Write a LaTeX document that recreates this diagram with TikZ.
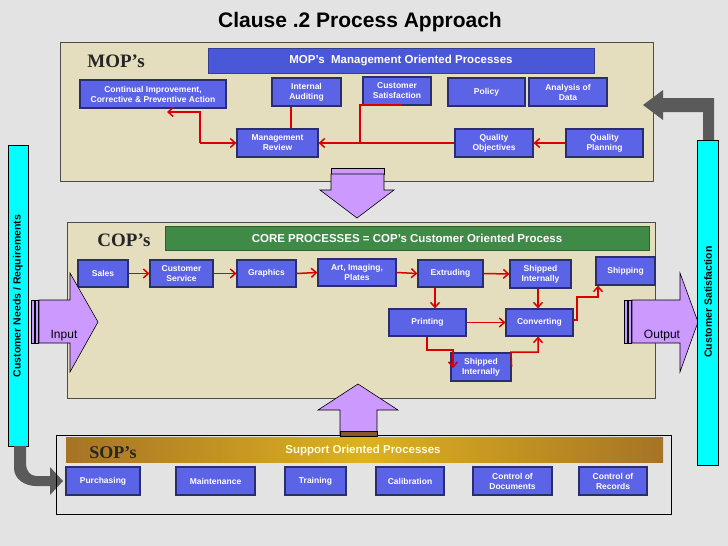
\documentclass[tikz,border=0pt]{standalone}
\usepackage{fontspec}
\setmainfont{Liberation Sans}
\newfontfamily\serifb{Liberation Serif}
\usetikzlibrary{arrows.meta}
\definecolor{bg}{HTML}{E3E3E3}
\definecolor{tan}{HTML}{E4DDBE}
\definecolor{bx}{HTML}{5B63E6}
\definecolor{bxd}{HTML}{2A2E6E}
\definecolor{hdr}{HTML}{4A58D8}
\definecolor{grn}{HTML}{3E8A46}
\definecolor{org}{HTML}{D0902E}
\definecolor{pur}{HTML}{CC99FF}
\definecolor{cy}{HTML}{00FFFF}
\definecolor{gr}{HTML}{5A5A5A}
\tikzset{
 box/.style={draw=bxd,line width=1.2pt,fill=bx,text=white,font=\bfseries\fontsize{8.5}{10}\selectfont,align=center,inner sep=0pt},
 ra/.style={draw=red!85!black,line width=1.5pt,-{Straight Barb[length=5pt,width=9pt]}},
 rl/.style={draw=red!85!black,line width=1.5pt},
 pnl/.style={draw=gray!60!black,line width=1pt,fill=tan},
 blk/.style={draw=black,line width=0.6pt,fill=pur},
}
\newcommand{\bxat}[6]{\node[box,minimum width=#4-#2,minimum height=#5-#3] (#1) at ({(#2+#4)/2},{(#3+#5)/2}) {#6};}
\begin{document}
\begin{tikzpicture}[x=1pt,y=-1pt]
\useasboundingbox (0,0) rectangle (728,546);
\fill[bg] (0,0) rectangle (728,546);
\node[font=\bfseries\fontsize{21}{23}\selectfont] (title) at (360,22) {Clause .2 Process Approach};
% MOP panel
\draw[pnl] (60,42) rectangle (653,181);
\node[font=\serifb\bfseries\fontsize{19}{20}\selectfont,text=black!85] (mopl) at (116,61) {MOP’s};
\node[fill=hdr,draw=hdr!70!black,minimum width=386,minimum height=25,text=white,font=\bfseries\fontsize{11.5}{13}\selectfont] (moph) at (401,61) {MOP’s\ \ Management Oriented Processes};
\bxat{ci}{80}{80}{226}{108}{Continual Improvement,\\Corrective \& Preventive Action}
\bxat{ia}{272}{78}{341}{106}{Internal\\Auditing}
\bxat{cs}{363}{77}{431}{105}{Customer\\Satisfaction}
\bxat{po}{448}{78}{525}{106}{Policy}
\bxat{ad}{529}{78}{607}{106}{Analysis of\\Data}
\bxat{mr}{237}{129}{318}{157}{Management\\Review}
\bxat{qo}{455}{129}{533}{157}{Quality\\Objectives}
\bxat{qp}{566}{129}{643}{157}{Quality\\Planning}
\draw[ra] (qp.west) -- (qo.east);
\draw[ra] (qo.west) -- (mr.east);
\draw[rl] (ia.south -| 291,0) -- (mr.north -| 291,0);
\draw[rl] (401,105) -- (360,105) -- (360,143);
\draw[ra] (200,143) -- (mr.west);
\draw[ra] (200,143) -- (200,112) -- (167,112);
% down block arrow MOP->COP
\draw[blk] (331,168) rectangle (384,174);
\draw[blk] (331,174) -- (331,190) -- (320,190) -- (357,218) -- (394,190) -- (384,190) -- (384,174) -- cycle;
% COP panel
\draw[pnl] (67,222) rectangle (655,398);
\node[font=\serifb\bfseries\fontsize{19}{20}\selectfont,text=black!85] (copl) at (124,240) {COP’s};
\node[fill=grn,draw=grn!70!black,minimum width=484,minimum height=24,text=white,font=\bfseries\fontsize{11.5}{13}\selectfont] (coph) at (407,238) {CORE PROCESSES = COP’s Customer Oriented Process};
\bxat{sa}{78}{260}{128}{287}{Sales}
\bxat{cse}{150}{260}{213}{287}{Customer\\Service}
\bxat{gr}{237}{260}{296}{287}{Graphics}
\bxat{ar}{318}{259}{396}{286}{Art, Imaging,\\Plates}
\bxat{ex}{418}{260}{483}{287}{Extruding}
\bxat{si}{510}{260}{571}{288}{Shipped\\Internally}
\bxat{sh}{596}{257}{655}{285}{Shipping}
\bxat{pr}{389}{309}{466}{336}{Printing}
\bxat{cv}{506}{309}{573}{336}{Converting}
\bxat{si2}{451}{353}{511}{381}{Shipped\\Internally}
\draw[ra] (sa.east) -- (cse.west);
\draw[ra] (cse.east) -- (gr.west);
\draw[ra] (gr.east) -- (ar.west);
\draw[ra] (ar.east) -- (ex.west);
\draw[ra] (ex.east) -- (si.west);
\draw[ra] (ex.south -| 435,0) -- (pr.north -| 435,0);
\draw[ra] (si.south -| 538,0) -- (cv.north -| 538,0);
\draw[ra] (pr.east) -- (cv.west);
\draw[ra] (pr.south -| 427,0) -- (427,350) -- (453,350) -- (453,368);
\draw[ra] (si2.east |- 0,367) -- (511,352) -- (538,352) -- (cv.south -| 538,0);
\draw[ra] (cv.east |- 0,320) -- (577,320) -- (577,297) -- (598,297) -- (sh.south -| 598,0);
% input / output arrows
\draw[blk] (31,300) rectangle (34,343);
\draw[blk] (35,300) rectangle (38,343);
\draw[blk] (39,300) -- (70,300) -- (70,273) -- (98,322) -- (70,372) -- (70,343) -- (39,343) -- cycle;
\node[font=\fontsize{12}{13}\selectfont] (inp) at (64,336) {Input};
\draw[blk] (624,300) rectangle (627,343);
\draw[blk] (628,300) rectangle (631,343);
\draw[blk] (632,300) -- (680,300) -- (680,273) -- (698,322) -- (680,372) -- (680,343) -- (632,343) -- cycle;
\node[font=\fontsize{12}{13}\selectfont] (outp) at (662,336) {Output};
% side bars
\draw[fill=cy,line width=1pt] (8,145) rectangle (28,446);
\node[rotate=90,font=\bfseries\fontsize{10.5}{12}\selectfont] (cn) at (18,296) {Customer Needs / Requirements};
\draw[fill=cy,line width=1pt] (697,140) rectangle (718,465);
\node[rotate=90,font=\bfseries\fontsize{10.5}{12}\selectfont] (csat) at (708,302) {Customer Satisfaction};
\fill[gr] (14,446) -- (14,468) to[out=-90,in=180] (36,486) -- (50,486) -- (50,495) -- (63,481) -- (50,467) -- (50,476) -- (36,476) to[out=180,in=-90] (26,464) -- (26,446) -- cycle;
\fill[gr] (703,140) -- (703,112) -- (663,112) -- (663,120) -- (643,105) -- (663,90) -- (663,98) -- (714,98) -- (714,140) -- cycle;
% up block arrow SOP->COP
\draw[blk] (340,436) -- (340,410) -- (318,410) -- (358,384) -- (398,410) -- (377,410) -- (377,436) -- cycle;
% SOP panel
\draw[line width=0.7pt] (56,435) rectangle (671,514);
\shade[left color=org!80!black,right color=org!80!black,middle color=org!70!yellow] (66,437) rectangle (663,462);
\draw[fill=brown!70!black] (340,431) rectangle (377,436);
\node[font=\serifb\bfseries\fontsize{18}{20}\selectfont,text=black!85] (sopl) at (113,453) {SOP’s};
\node[font=\bfseries\fontsize{11.5}{13}\selectfont,text=yellow!15] (soph) at (363,451) {Support Oriented Processes};
\bxat{pu}{66}{467}{140}{495}{Purchasing}
\bxat{ma}{176}{467}{255}{495}{Maintenance}
\bxat{tr}{285}{467}{346}{495}{Training}
\bxat{ca}{376}{467}{444}{495}{Calibration}
\bxat{cd}{473}{467}{552}{495}{Control of\\Documents}
\bxat{cr}{579}{467}{647}{495}{Control of\\Records}
\end{tikzpicture}
\end{document}
